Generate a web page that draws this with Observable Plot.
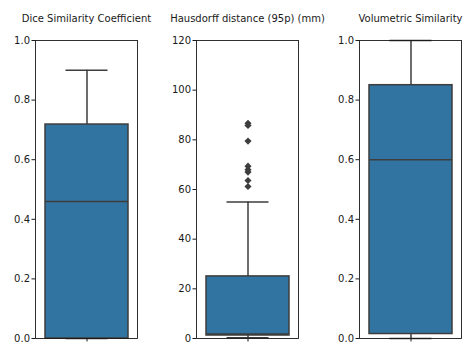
<!DOCTYPE html>
<html>
<head>
<meta charset="utf-8">
<script src="https://cdn.jsdelivr.net/npm/d3@7"></script>
<script src="https://cdn.jsdelivr.net/npm/@observablehq/plot@0.6"></script>
<style>
  html, body { margin: 0; padding: 0; background: #fff; }
  #chart { position: relative; width: 474px; height: 355px; overflow: hidden; }
  .panel { position: absolute; top: 0; }
  .panel svg { display: block; overflow: visible; }
</style>
</head>
<body>
<div id="chart"></div>
<script>
// ---- data ----
const titles = ["Dice Similarity Coefficient", "Hausdorff distance (95p) (mm)", "Volumetric Similarity"];
const whiskerLow  = [0.0, 0.3, 0.0];
const q1          = [0.0, 1.2, 0.015];
const median      = [0.46, 1.8, 0.60];
const q3          = [0.718, 25.0, 0.85];
const whiskerHigh = [0.90, 55.0, 1.0];
const outliers    = [[], [61.2, 63.6, 67.0, 68.0, 69.4, 79.5, 85.8, 86.7], []];
const yDomains    = [[0, 1], [0, 120], [0, 1]];
const yTicks      = [[0, 0.2, 0.4, 0.6, 0.8, 1.0], [0, 20, 40, 60, 80, 100, 120], [0, 0.2, 0.4, 0.6, 0.8, 1.0]];
const tickFormats = [".1f", "d", ".1f"];

// ---- layout (styles only) ----
const layout = [
  {left: 0,   width: 160, marginLeft: 35},
  {left: 160, width: 160, marginLeft: 36},
  {left: 318, width: 156, marginLeft: 41}
];
const boxFill = "#3274a1";
const lineColor = "#3d3d3d";
const font = "DejaVu Sans, sans-serif";

const chart = document.getElementById("chart");
titles.forEach((title, i) => {
  const L = layout[i];
  const frameW = 102;
  const box = [{k: "", lo: whiskerLow[i], q1: q1[i], med: median[i], q3: q3[i], hi: whiskerHigh[i]}];
  const outs = outliers[i].map(v => ({k: "", v}));
  const plot = Plot.plot({
    width: L.width,
    height: 355,
    marginLeft: L.marginLeft,
    marginRight: L.width - L.marginLeft - frameW,
    marginTop: 40,
    marginBottom: 17,
    style: {fontFamily: font, fontSize: "10px", color: "#1a1a1a", background: "transparent", overflow: "visible"},
    x: {type: "band", domain: [""], paddingInner: 0.1, paddingOuter: 0.1, tickSize: 3.5, tickFormat: () => "", label: null},
    y: {domain: yDomains[i], ticks: yTicks[i], tickFormat: d3.format(tickFormats[i]), tickSize: 3.5, tickPadding: 2, label: null},
    marks: [
      Plot.ruleX(box, {x: "k", y1: "lo", y2: "q1", stroke: lineColor, strokeWidth: 1.5}),
      Plot.ruleX(box, {x: "k", y1: "q3", y2: "hi", stroke: lineColor, strokeWidth: 1.5}),
      Plot.tickY(box, {x: "k", y: "lo", stroke: lineColor, strokeWidth: 1.5, insetLeft: 20.5, insetRight: 20.5}),
      Plot.tickY(box, {x: "k", y: "hi", stroke: lineColor, strokeWidth: 1.5, insetLeft: 20.5, insetRight: 20.5}),
      Plot.barY(box, {x: "k", y1: "q1", y2: "q3", fill: boxFill, stroke: lineColor, strokeWidth: 1.5}),
      Plot.tickY(box, {x: "k", y: "med", stroke: lineColor, strokeWidth: 1.5}),
      Plot.dot(outs, {x: "k", y: "v", symbol: "diamond2", r: 3.2, fill: lineColor, stroke: "none"}),
      Plot.frame({stroke: "#1a1a1a", strokeWidth: 0.9}),
      Plot.text([title], {frameAnchor: "top", dy: -26, text: d => d, fontSize: 10, fill: "#1a1a1a"})
    ]
  });
  const div = document.createElement("div");
  div.className = "panel";
  div.style.left = L.left + "px";
  div.appendChild(plot);
  chart.appendChild(div);
});
</script>
</body>
</html>
